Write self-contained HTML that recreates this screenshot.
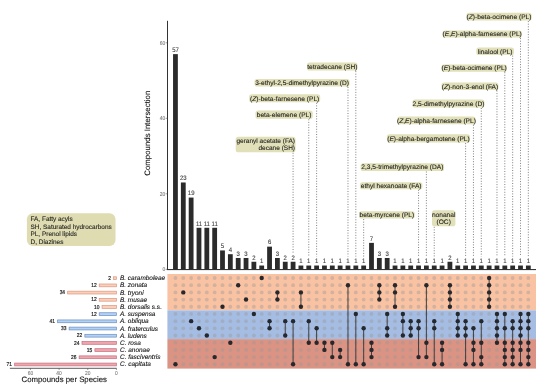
<!DOCTYPE html><html><head><meta charset="utf-8"><style>html,body{margin:0;padding:0;background:#fff;}svg{display:block;filter:blur(0.3px);text-rendering:geometricPrecision;font-family:"Liberation Sans",sans-serif;}</style></head><body>
<svg width="550" height="386" viewBox="0 0 550 386">
<rect x="0" y="0" width="550" height="386" fill="#fff"/>
<rect x="167.4" y="274.00" width="368.6" height="36.35" fill="#f9c2a2"/>
<rect x="167.4" y="310.35" width="368.6" height="28.76" fill="#a5bde3"/>
<rect x="167.4" y="339.11" width="368.6" height="29.49" fill="#db9383"/>
<circle cx="175.45" cy="278.00" r="1.9" fill="#999" fill-opacity="0.4"/>
<circle cx="175.45" cy="285.19" r="1.9" fill="#999" fill-opacity="0.4"/>
<circle cx="175.45" cy="292.38" r="1.9" fill="#999" fill-opacity="0.4"/>
<circle cx="175.45" cy="299.56" r="1.9" fill="#999" fill-opacity="0.4"/>
<circle cx="175.45" cy="306.75" r="1.9" fill="#999" fill-opacity="0.4"/>
<circle cx="175.45" cy="313.94" r="1.9" fill="#999" fill-opacity="0.4"/>
<circle cx="175.45" cy="321.13" r="1.9" fill="#999" fill-opacity="0.4"/>
<circle cx="175.45" cy="328.32" r="1.9" fill="#999" fill-opacity="0.4"/>
<circle cx="175.45" cy="335.51" r="1.9" fill="#999" fill-opacity="0.4"/>
<circle cx="175.45" cy="342.70" r="1.9" fill="#999" fill-opacity="0.4"/>
<circle cx="175.45" cy="349.89" r="1.9" fill="#999" fill-opacity="0.4"/>
<circle cx="175.45" cy="357.08" r="1.9" fill="#999" fill-opacity="0.4"/>
<circle cx="183.29" cy="278.00" r="1.9" fill="#999" fill-opacity="0.4"/>
<circle cx="183.29" cy="285.19" r="1.9" fill="#999" fill-opacity="0.4"/>
<circle cx="183.29" cy="299.56" r="1.9" fill="#999" fill-opacity="0.4"/>
<circle cx="183.29" cy="306.75" r="1.9" fill="#999" fill-opacity="0.4"/>
<circle cx="183.29" cy="313.94" r="1.9" fill="#999" fill-opacity="0.4"/>
<circle cx="183.29" cy="321.13" r="1.9" fill="#999" fill-opacity="0.4"/>
<circle cx="183.29" cy="328.32" r="1.9" fill="#999" fill-opacity="0.4"/>
<circle cx="183.29" cy="335.51" r="1.9" fill="#999" fill-opacity="0.4"/>
<circle cx="183.29" cy="342.70" r="1.9" fill="#999" fill-opacity="0.4"/>
<circle cx="183.29" cy="349.89" r="1.9" fill="#999" fill-opacity="0.4"/>
<circle cx="183.29" cy="357.08" r="1.9" fill="#999" fill-opacity="0.4"/>
<circle cx="183.29" cy="364.27" r="1.9" fill="#999" fill-opacity="0.4"/>
<circle cx="191.13" cy="278.00" r="1.9" fill="#999" fill-opacity="0.4"/>
<circle cx="191.13" cy="285.19" r="1.9" fill="#999" fill-opacity="0.4"/>
<circle cx="191.13" cy="292.38" r="1.9" fill="#999" fill-opacity="0.4"/>
<circle cx="191.13" cy="299.56" r="1.9" fill="#999" fill-opacity="0.4"/>
<circle cx="191.13" cy="306.75" r="1.9" fill="#999" fill-opacity="0.4"/>
<circle cx="191.13" cy="313.94" r="1.9" fill="#999" fill-opacity="0.4"/>
<circle cx="191.13" cy="328.32" r="1.9" fill="#999" fill-opacity="0.4"/>
<circle cx="191.13" cy="335.51" r="1.9" fill="#999" fill-opacity="0.4"/>
<circle cx="191.13" cy="342.70" r="1.9" fill="#999" fill-opacity="0.4"/>
<circle cx="191.13" cy="349.89" r="1.9" fill="#999" fill-opacity="0.4"/>
<circle cx="191.13" cy="357.08" r="1.9" fill="#999" fill-opacity="0.4"/>
<circle cx="191.13" cy="364.27" r="1.9" fill="#999" fill-opacity="0.4"/>
<circle cx="198.98" cy="278.00" r="1.9" fill="#999" fill-opacity="0.4"/>
<circle cx="198.98" cy="285.19" r="1.9" fill="#999" fill-opacity="0.4"/>
<circle cx="198.98" cy="292.38" r="1.9" fill="#999" fill-opacity="0.4"/>
<circle cx="198.98" cy="299.56" r="1.9" fill="#999" fill-opacity="0.4"/>
<circle cx="198.98" cy="306.75" r="1.9" fill="#999" fill-opacity="0.4"/>
<circle cx="198.98" cy="313.94" r="1.9" fill="#999" fill-opacity="0.4"/>
<circle cx="198.98" cy="321.13" r="1.9" fill="#999" fill-opacity="0.4"/>
<circle cx="198.98" cy="335.51" r="1.9" fill="#999" fill-opacity="0.4"/>
<circle cx="198.98" cy="342.70" r="1.9" fill="#999" fill-opacity="0.4"/>
<circle cx="198.98" cy="349.89" r="1.9" fill="#999" fill-opacity="0.4"/>
<circle cx="198.98" cy="357.08" r="1.9" fill="#999" fill-opacity="0.4"/>
<circle cx="198.98" cy="364.27" r="1.9" fill="#999" fill-opacity="0.4"/>
<circle cx="206.82" cy="278.00" r="1.9" fill="#999" fill-opacity="0.4"/>
<circle cx="206.82" cy="285.19" r="1.9" fill="#999" fill-opacity="0.4"/>
<circle cx="206.82" cy="292.38" r="1.9" fill="#999" fill-opacity="0.4"/>
<circle cx="206.82" cy="299.56" r="1.9" fill="#999" fill-opacity="0.4"/>
<circle cx="206.82" cy="306.75" r="1.9" fill="#999" fill-opacity="0.4"/>
<circle cx="206.82" cy="313.94" r="1.9" fill="#999" fill-opacity="0.4"/>
<circle cx="206.82" cy="321.13" r="1.9" fill="#999" fill-opacity="0.4"/>
<circle cx="206.82" cy="328.32" r="1.9" fill="#999" fill-opacity="0.4"/>
<circle cx="206.82" cy="342.70" r="1.9" fill="#999" fill-opacity="0.4"/>
<circle cx="206.82" cy="349.89" r="1.9" fill="#999" fill-opacity="0.4"/>
<circle cx="206.82" cy="357.08" r="1.9" fill="#999" fill-opacity="0.4"/>
<circle cx="206.82" cy="364.27" r="1.9" fill="#999" fill-opacity="0.4"/>
<circle cx="214.66" cy="278.00" r="1.9" fill="#999" fill-opacity="0.4"/>
<circle cx="214.66" cy="285.19" r="1.9" fill="#999" fill-opacity="0.4"/>
<circle cx="214.66" cy="292.38" r="1.9" fill="#999" fill-opacity="0.4"/>
<circle cx="214.66" cy="299.56" r="1.9" fill="#999" fill-opacity="0.4"/>
<circle cx="214.66" cy="306.75" r="1.9" fill="#999" fill-opacity="0.4"/>
<circle cx="214.66" cy="313.94" r="1.9" fill="#999" fill-opacity="0.4"/>
<circle cx="214.66" cy="321.13" r="1.9" fill="#999" fill-opacity="0.4"/>
<circle cx="214.66" cy="328.32" r="1.9" fill="#999" fill-opacity="0.4"/>
<circle cx="214.66" cy="335.51" r="1.9" fill="#999" fill-opacity="0.4"/>
<circle cx="214.66" cy="342.70" r="1.9" fill="#999" fill-opacity="0.4"/>
<circle cx="214.66" cy="349.89" r="1.9" fill="#999" fill-opacity="0.4"/>
<circle cx="214.66" cy="364.27" r="1.9" fill="#999" fill-opacity="0.4"/>
<circle cx="222.50" cy="278.00" r="1.9" fill="#999" fill-opacity="0.4"/>
<circle cx="222.50" cy="285.19" r="1.9" fill="#999" fill-opacity="0.4"/>
<circle cx="222.50" cy="292.38" r="1.9" fill="#999" fill-opacity="0.4"/>
<circle cx="222.50" cy="299.56" r="1.9" fill="#999" fill-opacity="0.4"/>
<circle cx="222.50" cy="313.94" r="1.9" fill="#999" fill-opacity="0.4"/>
<circle cx="222.50" cy="321.13" r="1.9" fill="#999" fill-opacity="0.4"/>
<circle cx="222.50" cy="328.32" r="1.9" fill="#999" fill-opacity="0.4"/>
<circle cx="222.50" cy="335.51" r="1.9" fill="#999" fill-opacity="0.4"/>
<circle cx="222.50" cy="342.70" r="1.9" fill="#999" fill-opacity="0.4"/>
<circle cx="222.50" cy="349.89" r="1.9" fill="#999" fill-opacity="0.4"/>
<circle cx="222.50" cy="357.08" r="1.9" fill="#999" fill-opacity="0.4"/>
<circle cx="222.50" cy="364.27" r="1.9" fill="#999" fill-opacity="0.4"/>
<circle cx="230.34" cy="278.00" r="1.9" fill="#999" fill-opacity="0.4"/>
<circle cx="230.34" cy="285.19" r="1.9" fill="#999" fill-opacity="0.4"/>
<circle cx="230.34" cy="292.38" r="1.9" fill="#999" fill-opacity="0.4"/>
<circle cx="230.34" cy="299.56" r="1.9" fill="#999" fill-opacity="0.4"/>
<circle cx="230.34" cy="306.75" r="1.9" fill="#999" fill-opacity="0.4"/>
<circle cx="230.34" cy="313.94" r="1.9" fill="#999" fill-opacity="0.4"/>
<circle cx="230.34" cy="321.13" r="1.9" fill="#999" fill-opacity="0.4"/>
<circle cx="230.34" cy="328.32" r="1.9" fill="#999" fill-opacity="0.4"/>
<circle cx="230.34" cy="335.51" r="1.9" fill="#999" fill-opacity="0.4"/>
<circle cx="230.34" cy="349.89" r="1.9" fill="#999" fill-opacity="0.4"/>
<circle cx="230.34" cy="357.08" r="1.9" fill="#999" fill-opacity="0.4"/>
<circle cx="230.34" cy="364.27" r="1.9" fill="#999" fill-opacity="0.4"/>
<circle cx="238.19" cy="278.00" r="1.9" fill="#999" fill-opacity="0.4"/>
<circle cx="238.19" cy="292.38" r="1.9" fill="#999" fill-opacity="0.4"/>
<circle cx="238.19" cy="299.56" r="1.9" fill="#999" fill-opacity="0.4"/>
<circle cx="238.19" cy="306.75" r="1.9" fill="#999" fill-opacity="0.4"/>
<circle cx="238.19" cy="313.94" r="1.9" fill="#999" fill-opacity="0.4"/>
<circle cx="238.19" cy="321.13" r="1.9" fill="#999" fill-opacity="0.4"/>
<circle cx="238.19" cy="328.32" r="1.9" fill="#999" fill-opacity="0.4"/>
<circle cx="238.19" cy="335.51" r="1.9" fill="#999" fill-opacity="0.4"/>
<circle cx="238.19" cy="342.70" r="1.9" fill="#999" fill-opacity="0.4"/>
<circle cx="238.19" cy="349.89" r="1.9" fill="#999" fill-opacity="0.4"/>
<circle cx="238.19" cy="357.08" r="1.9" fill="#999" fill-opacity="0.4"/>
<circle cx="238.19" cy="364.27" r="1.9" fill="#999" fill-opacity="0.4"/>
<circle cx="246.03" cy="278.00" r="1.9" fill="#999" fill-opacity="0.4"/>
<circle cx="246.03" cy="285.19" r="1.9" fill="#999" fill-opacity="0.4"/>
<circle cx="246.03" cy="292.38" r="1.9" fill="#999" fill-opacity="0.4"/>
<circle cx="246.03" cy="306.75" r="1.9" fill="#999" fill-opacity="0.4"/>
<circle cx="246.03" cy="313.94" r="1.9" fill="#999" fill-opacity="0.4"/>
<circle cx="246.03" cy="321.13" r="1.9" fill="#999" fill-opacity="0.4"/>
<circle cx="246.03" cy="328.32" r="1.9" fill="#999" fill-opacity="0.4"/>
<circle cx="246.03" cy="335.51" r="1.9" fill="#999" fill-opacity="0.4"/>
<circle cx="246.03" cy="342.70" r="1.9" fill="#999" fill-opacity="0.4"/>
<circle cx="246.03" cy="349.89" r="1.9" fill="#999" fill-opacity="0.4"/>
<circle cx="246.03" cy="357.08" r="1.9" fill="#999" fill-opacity="0.4"/>
<circle cx="246.03" cy="364.27" r="1.9" fill="#999" fill-opacity="0.4"/>
<circle cx="253.87" cy="278.00" r="1.9" fill="#999" fill-opacity="0.4"/>
<circle cx="253.87" cy="285.19" r="1.9" fill="#999" fill-opacity="0.4"/>
<circle cx="253.87" cy="292.38" r="1.9" fill="#999" fill-opacity="0.4"/>
<circle cx="253.87" cy="299.56" r="1.9" fill="#999" fill-opacity="0.4"/>
<circle cx="253.87" cy="306.75" r="1.9" fill="#999" fill-opacity="0.4"/>
<circle cx="253.87" cy="321.13" r="1.9" fill="#999" fill-opacity="0.4"/>
<circle cx="253.87" cy="328.32" r="1.9" fill="#999" fill-opacity="0.4"/>
<circle cx="253.87" cy="335.51" r="1.9" fill="#999" fill-opacity="0.4"/>
<circle cx="253.87" cy="342.70" r="1.9" fill="#999" fill-opacity="0.4"/>
<circle cx="253.87" cy="349.89" r="1.9" fill="#999" fill-opacity="0.4"/>
<circle cx="253.87" cy="357.08" r="1.9" fill="#999" fill-opacity="0.4"/>
<circle cx="253.87" cy="364.27" r="1.9" fill="#999" fill-opacity="0.4"/>
<circle cx="261.71" cy="285.19" r="1.9" fill="#999" fill-opacity="0.4"/>
<circle cx="261.71" cy="292.38" r="1.9" fill="#999" fill-opacity="0.4"/>
<circle cx="261.71" cy="299.56" r="1.9" fill="#999" fill-opacity="0.4"/>
<circle cx="261.71" cy="306.75" r="1.9" fill="#999" fill-opacity="0.4"/>
<circle cx="261.71" cy="313.94" r="1.9" fill="#999" fill-opacity="0.4"/>
<circle cx="261.71" cy="321.13" r="1.9" fill="#999" fill-opacity="0.4"/>
<circle cx="261.71" cy="328.32" r="1.9" fill="#999" fill-opacity="0.4"/>
<circle cx="261.71" cy="335.51" r="1.9" fill="#999" fill-opacity="0.4"/>
<circle cx="261.71" cy="342.70" r="1.9" fill="#999" fill-opacity="0.4"/>
<circle cx="261.71" cy="349.89" r="1.9" fill="#999" fill-opacity="0.4"/>
<circle cx="261.71" cy="357.08" r="1.9" fill="#999" fill-opacity="0.4"/>
<circle cx="261.71" cy="364.27" r="1.9" fill="#999" fill-opacity="0.4"/>
<circle cx="269.55" cy="278.00" r="1.9" fill="#999" fill-opacity="0.4"/>
<circle cx="269.55" cy="285.19" r="1.9" fill="#999" fill-opacity="0.4"/>
<circle cx="269.55" cy="292.38" r="1.9" fill="#999" fill-opacity="0.4"/>
<circle cx="269.55" cy="299.56" r="1.9" fill="#999" fill-opacity="0.4"/>
<circle cx="269.55" cy="306.75" r="1.9" fill="#999" fill-opacity="0.4"/>
<circle cx="269.55" cy="313.94" r="1.9" fill="#999" fill-opacity="0.4"/>
<circle cx="269.55" cy="335.51" r="1.9" fill="#999" fill-opacity="0.4"/>
<circle cx="269.55" cy="342.70" r="1.9" fill="#999" fill-opacity="0.4"/>
<circle cx="269.55" cy="349.89" r="1.9" fill="#999" fill-opacity="0.4"/>
<circle cx="269.55" cy="357.08" r="1.9" fill="#999" fill-opacity="0.4"/>
<circle cx="269.55" cy="364.27" r="1.9" fill="#999" fill-opacity="0.4"/>
<circle cx="277.40" cy="278.00" r="1.9" fill="#999" fill-opacity="0.4"/>
<circle cx="277.40" cy="285.19" r="1.9" fill="#999" fill-opacity="0.4"/>
<circle cx="277.40" cy="306.75" r="1.9" fill="#999" fill-opacity="0.4"/>
<circle cx="277.40" cy="313.94" r="1.9" fill="#999" fill-opacity="0.4"/>
<circle cx="277.40" cy="321.13" r="1.9" fill="#999" fill-opacity="0.4"/>
<circle cx="277.40" cy="328.32" r="1.9" fill="#999" fill-opacity="0.4"/>
<circle cx="277.40" cy="335.51" r="1.9" fill="#999" fill-opacity="0.4"/>
<circle cx="277.40" cy="342.70" r="1.9" fill="#999" fill-opacity="0.4"/>
<circle cx="277.40" cy="349.89" r="1.9" fill="#999" fill-opacity="0.4"/>
<circle cx="277.40" cy="357.08" r="1.9" fill="#999" fill-opacity="0.4"/>
<circle cx="277.40" cy="364.27" r="1.9" fill="#999" fill-opacity="0.4"/>
<circle cx="285.24" cy="278.00" r="1.9" fill="#999" fill-opacity="0.4"/>
<circle cx="285.24" cy="285.19" r="1.9" fill="#999" fill-opacity="0.4"/>
<circle cx="285.24" cy="292.38" r="1.9" fill="#999" fill-opacity="0.4"/>
<circle cx="285.24" cy="299.56" r="1.9" fill="#999" fill-opacity="0.4"/>
<circle cx="285.24" cy="306.75" r="1.9" fill="#999" fill-opacity="0.4"/>
<circle cx="285.24" cy="313.94" r="1.9" fill="#999" fill-opacity="0.4"/>
<circle cx="285.24" cy="328.32" r="1.9" fill="#999" fill-opacity="0.4"/>
<circle cx="285.24" cy="342.70" r="1.9" fill="#999" fill-opacity="0.4"/>
<circle cx="285.24" cy="349.89" r="1.9" fill="#999" fill-opacity="0.4"/>
<circle cx="285.24" cy="357.08" r="1.9" fill="#999" fill-opacity="0.4"/>
<circle cx="285.24" cy="364.27" r="1.9" fill="#999" fill-opacity="0.4"/>
<circle cx="293.08" cy="278.00" r="1.9" fill="#999" fill-opacity="0.4"/>
<circle cx="293.08" cy="285.19" r="1.9" fill="#999" fill-opacity="0.4"/>
<circle cx="293.08" cy="292.38" r="1.9" fill="#999" fill-opacity="0.4"/>
<circle cx="293.08" cy="299.56" r="1.9" fill="#999" fill-opacity="0.4"/>
<circle cx="293.08" cy="306.75" r="1.9" fill="#999" fill-opacity="0.4"/>
<circle cx="293.08" cy="313.94" r="1.9" fill="#999" fill-opacity="0.4"/>
<circle cx="293.08" cy="328.32" r="1.9" fill="#999" fill-opacity="0.4"/>
<circle cx="293.08" cy="335.51" r="1.9" fill="#999" fill-opacity="0.4"/>
<circle cx="293.08" cy="342.70" r="1.9" fill="#999" fill-opacity="0.4"/>
<circle cx="293.08" cy="349.89" r="1.9" fill="#999" fill-opacity="0.4"/>
<circle cx="293.08" cy="357.08" r="1.9" fill="#999" fill-opacity="0.4"/>
<circle cx="300.92" cy="278.00" r="1.9" fill="#999" fill-opacity="0.4"/>
<circle cx="300.92" cy="285.19" r="1.9" fill="#999" fill-opacity="0.4"/>
<circle cx="300.92" cy="299.56" r="1.9" fill="#999" fill-opacity="0.4"/>
<circle cx="300.92" cy="313.94" r="1.9" fill="#999" fill-opacity="0.4"/>
<circle cx="300.92" cy="321.13" r="1.9" fill="#999" fill-opacity="0.4"/>
<circle cx="300.92" cy="328.32" r="1.9" fill="#999" fill-opacity="0.4"/>
<circle cx="300.92" cy="335.51" r="1.9" fill="#999" fill-opacity="0.4"/>
<circle cx="300.92" cy="342.70" r="1.9" fill="#999" fill-opacity="0.4"/>
<circle cx="300.92" cy="349.89" r="1.9" fill="#999" fill-opacity="0.4"/>
<circle cx="300.92" cy="357.08" r="1.9" fill="#999" fill-opacity="0.4"/>
<circle cx="300.92" cy="364.27" r="1.9" fill="#999" fill-opacity="0.4"/>
<circle cx="308.76" cy="278.00" r="1.9" fill="#999" fill-opacity="0.4"/>
<circle cx="308.76" cy="285.19" r="1.9" fill="#999" fill-opacity="0.4"/>
<circle cx="308.76" cy="292.38" r="1.9" fill="#999" fill-opacity="0.4"/>
<circle cx="308.76" cy="299.56" r="1.9" fill="#999" fill-opacity="0.4"/>
<circle cx="308.76" cy="306.75" r="1.9" fill="#999" fill-opacity="0.4"/>
<circle cx="308.76" cy="313.94" r="1.9" fill="#999" fill-opacity="0.4"/>
<circle cx="308.76" cy="328.32" r="1.9" fill="#999" fill-opacity="0.4"/>
<circle cx="308.76" cy="335.51" r="1.9" fill="#999" fill-opacity="0.4"/>
<circle cx="308.76" cy="349.89" r="1.9" fill="#999" fill-opacity="0.4"/>
<circle cx="308.76" cy="357.08" r="1.9" fill="#999" fill-opacity="0.4"/>
<circle cx="308.76" cy="364.27" r="1.9" fill="#999" fill-opacity="0.4"/>
<circle cx="316.61" cy="278.00" r="1.9" fill="#999" fill-opacity="0.4"/>
<circle cx="316.61" cy="285.19" r="1.9" fill="#999" fill-opacity="0.4"/>
<circle cx="316.61" cy="292.38" r="1.9" fill="#999" fill-opacity="0.4"/>
<circle cx="316.61" cy="299.56" r="1.9" fill="#999" fill-opacity="0.4"/>
<circle cx="316.61" cy="306.75" r="1.9" fill="#999" fill-opacity="0.4"/>
<circle cx="316.61" cy="313.94" r="1.9" fill="#999" fill-opacity="0.4"/>
<circle cx="316.61" cy="321.13" r="1.9" fill="#999" fill-opacity="0.4"/>
<circle cx="316.61" cy="335.51" r="1.9" fill="#999" fill-opacity="0.4"/>
<circle cx="316.61" cy="349.89" r="1.9" fill="#999" fill-opacity="0.4"/>
<circle cx="316.61" cy="357.08" r="1.9" fill="#999" fill-opacity="0.4"/>
<circle cx="316.61" cy="364.27" r="1.9" fill="#999" fill-opacity="0.4"/>
<circle cx="324.45" cy="278.00" r="1.9" fill="#999" fill-opacity="0.4"/>
<circle cx="324.45" cy="285.19" r="1.9" fill="#999" fill-opacity="0.4"/>
<circle cx="324.45" cy="292.38" r="1.9" fill="#999" fill-opacity="0.4"/>
<circle cx="324.45" cy="299.56" r="1.9" fill="#999" fill-opacity="0.4"/>
<circle cx="324.45" cy="306.75" r="1.9" fill="#999" fill-opacity="0.4"/>
<circle cx="324.45" cy="313.94" r="1.9" fill="#999" fill-opacity="0.4"/>
<circle cx="324.45" cy="321.13" r="1.9" fill="#999" fill-opacity="0.4"/>
<circle cx="324.45" cy="328.32" r="1.9" fill="#999" fill-opacity="0.4"/>
<circle cx="324.45" cy="335.51" r="1.9" fill="#999" fill-opacity="0.4"/>
<circle cx="324.45" cy="357.08" r="1.9" fill="#999" fill-opacity="0.4"/>
<circle cx="324.45" cy="364.27" r="1.9" fill="#999" fill-opacity="0.4"/>
<circle cx="332.29" cy="278.00" r="1.9" fill="#999" fill-opacity="0.4"/>
<circle cx="332.29" cy="285.19" r="1.9" fill="#999" fill-opacity="0.4"/>
<circle cx="332.29" cy="292.38" r="1.9" fill="#999" fill-opacity="0.4"/>
<circle cx="332.29" cy="299.56" r="1.9" fill="#999" fill-opacity="0.4"/>
<circle cx="332.29" cy="306.75" r="1.9" fill="#999" fill-opacity="0.4"/>
<circle cx="332.29" cy="313.94" r="1.9" fill="#999" fill-opacity="0.4"/>
<circle cx="332.29" cy="321.13" r="1.9" fill="#999" fill-opacity="0.4"/>
<circle cx="332.29" cy="328.32" r="1.9" fill="#999" fill-opacity="0.4"/>
<circle cx="332.29" cy="335.51" r="1.9" fill="#999" fill-opacity="0.4"/>
<circle cx="332.29" cy="349.89" r="1.9" fill="#999" fill-opacity="0.4"/>
<circle cx="332.29" cy="364.27" r="1.9" fill="#999" fill-opacity="0.4"/>
<circle cx="340.13" cy="278.00" r="1.9" fill="#999" fill-opacity="0.4"/>
<circle cx="340.13" cy="285.19" r="1.9" fill="#999" fill-opacity="0.4"/>
<circle cx="340.13" cy="292.38" r="1.9" fill="#999" fill-opacity="0.4"/>
<circle cx="340.13" cy="299.56" r="1.9" fill="#999" fill-opacity="0.4"/>
<circle cx="340.13" cy="306.75" r="1.9" fill="#999" fill-opacity="0.4"/>
<circle cx="340.13" cy="313.94" r="1.9" fill="#999" fill-opacity="0.4"/>
<circle cx="340.13" cy="321.13" r="1.9" fill="#999" fill-opacity="0.4"/>
<circle cx="340.13" cy="328.32" r="1.9" fill="#999" fill-opacity="0.4"/>
<circle cx="340.13" cy="335.51" r="1.9" fill="#999" fill-opacity="0.4"/>
<circle cx="340.13" cy="342.70" r="1.9" fill="#999" fill-opacity="0.4"/>
<circle cx="340.13" cy="364.27" r="1.9" fill="#999" fill-opacity="0.4"/>
<circle cx="347.97" cy="278.00" r="1.9" fill="#999" fill-opacity="0.4"/>
<circle cx="347.97" cy="292.38" r="1.9" fill="#999" fill-opacity="0.4"/>
<circle cx="347.97" cy="299.56" r="1.9" fill="#999" fill-opacity="0.4"/>
<circle cx="347.97" cy="306.75" r="1.9" fill="#999" fill-opacity="0.4"/>
<circle cx="347.97" cy="313.94" r="1.9" fill="#999" fill-opacity="0.4"/>
<circle cx="347.97" cy="321.13" r="1.9" fill="#999" fill-opacity="0.4"/>
<circle cx="347.97" cy="328.32" r="1.9" fill="#999" fill-opacity="0.4"/>
<circle cx="347.97" cy="335.51" r="1.9" fill="#999" fill-opacity="0.4"/>
<circle cx="347.97" cy="342.70" r="1.9" fill="#999" fill-opacity="0.4"/>
<circle cx="347.97" cy="349.89" r="1.9" fill="#999" fill-opacity="0.4"/>
<circle cx="347.97" cy="357.08" r="1.9" fill="#999" fill-opacity="0.4"/>
<circle cx="355.82" cy="278.00" r="1.9" fill="#999" fill-opacity="0.4"/>
<circle cx="355.82" cy="285.19" r="1.9" fill="#999" fill-opacity="0.4"/>
<circle cx="355.82" cy="292.38" r="1.9" fill="#999" fill-opacity="0.4"/>
<circle cx="355.82" cy="299.56" r="1.9" fill="#999" fill-opacity="0.4"/>
<circle cx="355.82" cy="306.75" r="1.9" fill="#999" fill-opacity="0.4"/>
<circle cx="355.82" cy="321.13" r="1.9" fill="#999" fill-opacity="0.4"/>
<circle cx="355.82" cy="328.32" r="1.9" fill="#999" fill-opacity="0.4"/>
<circle cx="355.82" cy="335.51" r="1.9" fill="#999" fill-opacity="0.4"/>
<circle cx="355.82" cy="342.70" r="1.9" fill="#999" fill-opacity="0.4"/>
<circle cx="355.82" cy="349.89" r="1.9" fill="#999" fill-opacity="0.4"/>
<circle cx="355.82" cy="357.08" r="1.9" fill="#999" fill-opacity="0.4"/>
<circle cx="363.66" cy="278.00" r="1.9" fill="#999" fill-opacity="0.4"/>
<circle cx="363.66" cy="285.19" r="1.9" fill="#999" fill-opacity="0.4"/>
<circle cx="363.66" cy="292.38" r="1.9" fill="#999" fill-opacity="0.4"/>
<circle cx="363.66" cy="299.56" r="1.9" fill="#999" fill-opacity="0.4"/>
<circle cx="363.66" cy="306.75" r="1.9" fill="#999" fill-opacity="0.4"/>
<circle cx="363.66" cy="313.94" r="1.9" fill="#999" fill-opacity="0.4"/>
<circle cx="363.66" cy="321.13" r="1.9" fill="#999" fill-opacity="0.4"/>
<circle cx="363.66" cy="335.51" r="1.9" fill="#999" fill-opacity="0.4"/>
<circle cx="363.66" cy="342.70" r="1.9" fill="#999" fill-opacity="0.4"/>
<circle cx="363.66" cy="349.89" r="1.9" fill="#999" fill-opacity="0.4"/>
<circle cx="363.66" cy="357.08" r="1.9" fill="#999" fill-opacity="0.4"/>
<circle cx="371.50" cy="278.00" r="1.9" fill="#999" fill-opacity="0.4"/>
<circle cx="371.50" cy="285.19" r="1.9" fill="#999" fill-opacity="0.4"/>
<circle cx="371.50" cy="292.38" r="1.9" fill="#999" fill-opacity="0.4"/>
<circle cx="371.50" cy="299.56" r="1.9" fill="#999" fill-opacity="0.4"/>
<circle cx="371.50" cy="306.75" r="1.9" fill="#999" fill-opacity="0.4"/>
<circle cx="371.50" cy="313.94" r="1.9" fill="#999" fill-opacity="0.4"/>
<circle cx="371.50" cy="321.13" r="1.9" fill="#999" fill-opacity="0.4"/>
<circle cx="371.50" cy="328.32" r="1.9" fill="#999" fill-opacity="0.4"/>
<circle cx="371.50" cy="335.51" r="1.9" fill="#999" fill-opacity="0.4"/>
<circle cx="371.50" cy="364.27" r="1.9" fill="#999" fill-opacity="0.4"/>
<circle cx="379.34" cy="278.00" r="1.9" fill="#999" fill-opacity="0.4"/>
<circle cx="379.34" cy="306.75" r="1.9" fill="#999" fill-opacity="0.4"/>
<circle cx="379.34" cy="313.94" r="1.9" fill="#999" fill-opacity="0.4"/>
<circle cx="379.34" cy="321.13" r="1.9" fill="#999" fill-opacity="0.4"/>
<circle cx="379.34" cy="328.32" r="1.9" fill="#999" fill-opacity="0.4"/>
<circle cx="379.34" cy="335.51" r="1.9" fill="#999" fill-opacity="0.4"/>
<circle cx="379.34" cy="342.70" r="1.9" fill="#999" fill-opacity="0.4"/>
<circle cx="379.34" cy="349.89" r="1.9" fill="#999" fill-opacity="0.4"/>
<circle cx="379.34" cy="357.08" r="1.9" fill="#999" fill-opacity="0.4"/>
<circle cx="379.34" cy="364.27" r="1.9" fill="#999" fill-opacity="0.4"/>
<circle cx="387.18" cy="278.00" r="1.9" fill="#999" fill-opacity="0.4"/>
<circle cx="387.18" cy="285.19" r="1.9" fill="#999" fill-opacity="0.4"/>
<circle cx="387.18" cy="292.38" r="1.9" fill="#999" fill-opacity="0.4"/>
<circle cx="387.18" cy="299.56" r="1.9" fill="#999" fill-opacity="0.4"/>
<circle cx="387.18" cy="306.75" r="1.9" fill="#999" fill-opacity="0.4"/>
<circle cx="387.18" cy="321.13" r="1.9" fill="#999" fill-opacity="0.4"/>
<circle cx="387.18" cy="342.70" r="1.9" fill="#999" fill-opacity="0.4"/>
<circle cx="387.18" cy="349.89" r="1.9" fill="#999" fill-opacity="0.4"/>
<circle cx="387.18" cy="357.08" r="1.9" fill="#999" fill-opacity="0.4"/>
<circle cx="387.18" cy="364.27" r="1.9" fill="#999" fill-opacity="0.4"/>
<circle cx="395.03" cy="278.00" r="1.9" fill="#999" fill-opacity="0.4"/>
<circle cx="395.03" cy="299.56" r="1.9" fill="#999" fill-opacity="0.4"/>
<circle cx="395.03" cy="313.94" r="1.9" fill="#999" fill-opacity="0.4"/>
<circle cx="395.03" cy="321.13" r="1.9" fill="#999" fill-opacity="0.4"/>
<circle cx="395.03" cy="328.32" r="1.9" fill="#999" fill-opacity="0.4"/>
<circle cx="395.03" cy="335.51" r="1.9" fill="#999" fill-opacity="0.4"/>
<circle cx="395.03" cy="342.70" r="1.9" fill="#999" fill-opacity="0.4"/>
<circle cx="395.03" cy="349.89" r="1.9" fill="#999" fill-opacity="0.4"/>
<circle cx="395.03" cy="357.08" r="1.9" fill="#999" fill-opacity="0.4"/>
<circle cx="395.03" cy="364.27" r="1.9" fill="#999" fill-opacity="0.4"/>
<circle cx="402.87" cy="278.00" r="1.9" fill="#999" fill-opacity="0.4"/>
<circle cx="402.87" cy="285.19" r="1.9" fill="#999" fill-opacity="0.4"/>
<circle cx="402.87" cy="292.38" r="1.9" fill="#999" fill-opacity="0.4"/>
<circle cx="402.87" cy="299.56" r="1.9" fill="#999" fill-opacity="0.4"/>
<circle cx="402.87" cy="306.75" r="1.9" fill="#999" fill-opacity="0.4"/>
<circle cx="402.87" cy="328.32" r="1.9" fill="#999" fill-opacity="0.4"/>
<circle cx="402.87" cy="342.70" r="1.9" fill="#999" fill-opacity="0.4"/>
<circle cx="402.87" cy="349.89" r="1.9" fill="#999" fill-opacity="0.4"/>
<circle cx="402.87" cy="357.08" r="1.9" fill="#999" fill-opacity="0.4"/>
<circle cx="402.87" cy="364.27" r="1.9" fill="#999" fill-opacity="0.4"/>
<circle cx="410.71" cy="278.00" r="1.9" fill="#999" fill-opacity="0.4"/>
<circle cx="410.71" cy="285.19" r="1.9" fill="#999" fill-opacity="0.4"/>
<circle cx="410.71" cy="292.38" r="1.9" fill="#999" fill-opacity="0.4"/>
<circle cx="410.71" cy="299.56" r="1.9" fill="#999" fill-opacity="0.4"/>
<circle cx="410.71" cy="306.75" r="1.9" fill="#999" fill-opacity="0.4"/>
<circle cx="410.71" cy="313.94" r="1.9" fill="#999" fill-opacity="0.4"/>
<circle cx="410.71" cy="342.70" r="1.9" fill="#999" fill-opacity="0.4"/>
<circle cx="410.71" cy="349.89" r="1.9" fill="#999" fill-opacity="0.4"/>
<circle cx="410.71" cy="357.08" r="1.9" fill="#999" fill-opacity="0.4"/>
<circle cx="410.71" cy="364.27" r="1.9" fill="#999" fill-opacity="0.4"/>
<circle cx="418.55" cy="278.00" r="1.9" fill="#999" fill-opacity="0.4"/>
<circle cx="418.55" cy="285.19" r="1.9" fill="#999" fill-opacity="0.4"/>
<circle cx="418.55" cy="292.38" r="1.9" fill="#999" fill-opacity="0.4"/>
<circle cx="418.55" cy="299.56" r="1.9" fill="#999" fill-opacity="0.4"/>
<circle cx="418.55" cy="306.75" r="1.9" fill="#999" fill-opacity="0.4"/>
<circle cx="418.55" cy="313.94" r="1.9" fill="#999" fill-opacity="0.4"/>
<circle cx="418.55" cy="335.51" r="1.9" fill="#999" fill-opacity="0.4"/>
<circle cx="418.55" cy="342.70" r="1.9" fill="#999" fill-opacity="0.4"/>
<circle cx="418.55" cy="349.89" r="1.9" fill="#999" fill-opacity="0.4"/>
<circle cx="418.55" cy="364.27" r="1.9" fill="#999" fill-opacity="0.4"/>
<circle cx="426.39" cy="278.00" r="1.9" fill="#999" fill-opacity="0.4"/>
<circle cx="426.39" cy="292.38" r="1.9" fill="#999" fill-opacity="0.4"/>
<circle cx="426.39" cy="299.56" r="1.9" fill="#999" fill-opacity="0.4"/>
<circle cx="426.39" cy="306.75" r="1.9" fill="#999" fill-opacity="0.4"/>
<circle cx="426.39" cy="313.94" r="1.9" fill="#999" fill-opacity="0.4"/>
<circle cx="426.39" cy="321.13" r="1.9" fill="#999" fill-opacity="0.4"/>
<circle cx="426.39" cy="328.32" r="1.9" fill="#999" fill-opacity="0.4"/>
<circle cx="426.39" cy="335.51" r="1.9" fill="#999" fill-opacity="0.4"/>
<circle cx="426.39" cy="349.89" r="1.9" fill="#999" fill-opacity="0.4"/>
<circle cx="426.39" cy="364.27" r="1.9" fill="#999" fill-opacity="0.4"/>
<circle cx="434.24" cy="278.00" r="1.9" fill="#999" fill-opacity="0.4"/>
<circle cx="434.24" cy="285.19" r="1.9" fill="#999" fill-opacity="0.4"/>
<circle cx="434.24" cy="292.38" r="1.9" fill="#999" fill-opacity="0.4"/>
<circle cx="434.24" cy="299.56" r="1.9" fill="#999" fill-opacity="0.4"/>
<circle cx="434.24" cy="306.75" r="1.9" fill="#999" fill-opacity="0.4"/>
<circle cx="434.24" cy="313.94" r="1.9" fill="#999" fill-opacity="0.4"/>
<circle cx="434.24" cy="335.51" r="1.9" fill="#999" fill-opacity="0.4"/>
<circle cx="434.24" cy="342.70" r="1.9" fill="#999" fill-opacity="0.4"/>
<circle cx="434.24" cy="349.89" r="1.9" fill="#999" fill-opacity="0.4"/>
<circle cx="434.24" cy="357.08" r="1.9" fill="#999" fill-opacity="0.4"/>
<circle cx="442.08" cy="278.00" r="1.9" fill="#999" fill-opacity="0.4"/>
<circle cx="442.08" cy="285.19" r="1.9" fill="#999" fill-opacity="0.4"/>
<circle cx="442.08" cy="292.38" r="1.9" fill="#999" fill-opacity="0.4"/>
<circle cx="442.08" cy="299.56" r="1.9" fill="#999" fill-opacity="0.4"/>
<circle cx="442.08" cy="306.75" r="1.9" fill="#999" fill-opacity="0.4"/>
<circle cx="442.08" cy="313.94" r="1.9" fill="#999" fill-opacity="0.4"/>
<circle cx="442.08" cy="321.13" r="1.9" fill="#999" fill-opacity="0.4"/>
<circle cx="442.08" cy="328.32" r="1.9" fill="#999" fill-opacity="0.4"/>
<circle cx="442.08" cy="335.51" r="1.9" fill="#999" fill-opacity="0.4"/>
<circle cx="442.08" cy="357.08" r="1.9" fill="#999" fill-opacity="0.4"/>
<circle cx="449.92" cy="278.00" r="1.9" fill="#999" fill-opacity="0.4"/>
<circle cx="449.92" cy="313.94" r="1.9" fill="#999" fill-opacity="0.4"/>
<circle cx="449.92" cy="321.13" r="1.9" fill="#999" fill-opacity="0.4"/>
<circle cx="449.92" cy="328.32" r="1.9" fill="#999" fill-opacity="0.4"/>
<circle cx="449.92" cy="335.51" r="1.9" fill="#999" fill-opacity="0.4"/>
<circle cx="449.92" cy="342.70" r="1.9" fill="#999" fill-opacity="0.4"/>
<circle cx="449.92" cy="349.89" r="1.9" fill="#999" fill-opacity="0.4"/>
<circle cx="449.92" cy="357.08" r="1.9" fill="#999" fill-opacity="0.4"/>
<circle cx="449.92" cy="364.27" r="1.9" fill="#999" fill-opacity="0.4"/>
<circle cx="457.76" cy="278.00" r="1.9" fill="#999" fill-opacity="0.4"/>
<circle cx="457.76" cy="285.19" r="1.9" fill="#999" fill-opacity="0.4"/>
<circle cx="457.76" cy="292.38" r="1.9" fill="#999" fill-opacity="0.4"/>
<circle cx="457.76" cy="299.56" r="1.9" fill="#999" fill-opacity="0.4"/>
<circle cx="457.76" cy="306.75" r="1.9" fill="#999" fill-opacity="0.4"/>
<circle cx="457.76" cy="342.70" r="1.9" fill="#999" fill-opacity="0.4"/>
<circle cx="457.76" cy="349.89" r="1.9" fill="#999" fill-opacity="0.4"/>
<circle cx="457.76" cy="357.08" r="1.9" fill="#999" fill-opacity="0.4"/>
<circle cx="457.76" cy="364.27" r="1.9" fill="#999" fill-opacity="0.4"/>
<circle cx="465.60" cy="278.00" r="1.9" fill="#999" fill-opacity="0.4"/>
<circle cx="465.60" cy="285.19" r="1.9" fill="#999" fill-opacity="0.4"/>
<circle cx="465.60" cy="292.38" r="1.9" fill="#999" fill-opacity="0.4"/>
<circle cx="465.60" cy="299.56" r="1.9" fill="#999" fill-opacity="0.4"/>
<circle cx="465.60" cy="306.75" r="1.9" fill="#999" fill-opacity="0.4"/>
<circle cx="465.60" cy="313.94" r="1.9" fill="#999" fill-opacity="0.4"/>
<circle cx="465.60" cy="342.70" r="1.9" fill="#999" fill-opacity="0.4"/>
<circle cx="465.60" cy="349.89" r="1.9" fill="#999" fill-opacity="0.4"/>
<circle cx="465.60" cy="357.08" r="1.9" fill="#999" fill-opacity="0.4"/>
<circle cx="473.45" cy="278.00" r="1.9" fill="#999" fill-opacity="0.4"/>
<circle cx="473.45" cy="285.19" r="1.9" fill="#999" fill-opacity="0.4"/>
<circle cx="473.45" cy="292.38" r="1.9" fill="#999" fill-opacity="0.4"/>
<circle cx="473.45" cy="299.56" r="1.9" fill="#999" fill-opacity="0.4"/>
<circle cx="473.45" cy="306.75" r="1.9" fill="#999" fill-opacity="0.4"/>
<circle cx="473.45" cy="313.94" r="1.9" fill="#999" fill-opacity="0.4"/>
<circle cx="473.45" cy="321.13" r="1.9" fill="#999" fill-opacity="0.4"/>
<circle cx="473.45" cy="335.51" r="1.9" fill="#999" fill-opacity="0.4"/>
<circle cx="473.45" cy="357.08" r="1.9" fill="#999" fill-opacity="0.4"/>
<circle cx="481.29" cy="278.00" r="1.9" fill="#999" fill-opacity="0.4"/>
<circle cx="481.29" cy="285.19" r="1.9" fill="#999" fill-opacity="0.4"/>
<circle cx="481.29" cy="292.38" r="1.9" fill="#999" fill-opacity="0.4"/>
<circle cx="481.29" cy="299.56" r="1.9" fill="#999" fill-opacity="0.4"/>
<circle cx="481.29" cy="306.75" r="1.9" fill="#999" fill-opacity="0.4"/>
<circle cx="481.29" cy="313.94" r="1.9" fill="#999" fill-opacity="0.4"/>
<circle cx="481.29" cy="328.32" r="1.9" fill="#999" fill-opacity="0.4"/>
<circle cx="481.29" cy="335.51" r="1.9" fill="#999" fill-opacity="0.4"/>
<circle cx="481.29" cy="349.89" r="1.9" fill="#999" fill-opacity="0.4"/>
<circle cx="489.13" cy="313.94" r="1.9" fill="#999" fill-opacity="0.4"/>
<circle cx="489.13" cy="321.13" r="1.9" fill="#999" fill-opacity="0.4"/>
<circle cx="489.13" cy="328.32" r="1.9" fill="#999" fill-opacity="0.4"/>
<circle cx="489.13" cy="335.51" r="1.9" fill="#999" fill-opacity="0.4"/>
<circle cx="489.13" cy="342.70" r="1.9" fill="#999" fill-opacity="0.4"/>
<circle cx="489.13" cy="349.89" r="1.9" fill="#999" fill-opacity="0.4"/>
<circle cx="489.13" cy="357.08" r="1.9" fill="#999" fill-opacity="0.4"/>
<circle cx="489.13" cy="364.27" r="1.9" fill="#999" fill-opacity="0.4"/>
<circle cx="496.97" cy="278.00" r="1.9" fill="#999" fill-opacity="0.4"/>
<circle cx="496.97" cy="285.19" r="1.9" fill="#999" fill-opacity="0.4"/>
<circle cx="496.97" cy="292.38" r="1.9" fill="#999" fill-opacity="0.4"/>
<circle cx="496.97" cy="299.56" r="1.9" fill="#999" fill-opacity="0.4"/>
<circle cx="496.97" cy="306.75" r="1.9" fill="#999" fill-opacity="0.4"/>
<circle cx="496.97" cy="349.89" r="1.9" fill="#999" fill-opacity="0.4"/>
<circle cx="496.97" cy="357.08" r="1.9" fill="#999" fill-opacity="0.4"/>
<circle cx="496.97" cy="364.27" r="1.9" fill="#999" fill-opacity="0.4"/>
<circle cx="504.81" cy="278.00" r="1.9" fill="#999" fill-opacity="0.4"/>
<circle cx="504.81" cy="285.19" r="1.9" fill="#999" fill-opacity="0.4"/>
<circle cx="504.81" cy="292.38" r="1.9" fill="#999" fill-opacity="0.4"/>
<circle cx="504.81" cy="299.56" r="1.9" fill="#999" fill-opacity="0.4"/>
<circle cx="504.81" cy="306.75" r="1.9" fill="#999" fill-opacity="0.4"/>
<circle cx="504.81" cy="321.13" r="1.9" fill="#999" fill-opacity="0.4"/>
<circle cx="504.81" cy="335.51" r="1.9" fill="#999" fill-opacity="0.4"/>
<circle cx="512.66" cy="278.00" r="1.9" fill="#999" fill-opacity="0.4"/>
<circle cx="512.66" cy="285.19" r="1.9" fill="#999" fill-opacity="0.4"/>
<circle cx="512.66" cy="292.38" r="1.9" fill="#999" fill-opacity="0.4"/>
<circle cx="512.66" cy="299.56" r="1.9" fill="#999" fill-opacity="0.4"/>
<circle cx="512.66" cy="306.75" r="1.9" fill="#999" fill-opacity="0.4"/>
<circle cx="512.66" cy="313.94" r="1.9" fill="#999" fill-opacity="0.4"/>
<circle cx="512.66" cy="335.51" r="1.9" fill="#999" fill-opacity="0.4"/>
<circle cx="520.50" cy="278.00" r="1.9" fill="#999" fill-opacity="0.4"/>
<circle cx="520.50" cy="285.19" r="1.9" fill="#999" fill-opacity="0.4"/>
<circle cx="520.50" cy="292.38" r="1.9" fill="#999" fill-opacity="0.4"/>
<circle cx="520.50" cy="299.56" r="1.9" fill="#999" fill-opacity="0.4"/>
<circle cx="520.50" cy="306.75" r="1.9" fill="#999" fill-opacity="0.4"/>
<circle cx="520.50" cy="357.08" r="1.9" fill="#999" fill-opacity="0.4"/>
<circle cx="528.34" cy="278.00" r="1.9" fill="#999" fill-opacity="0.4"/>
<circle cx="528.34" cy="285.19" r="1.9" fill="#999" fill-opacity="0.4"/>
<circle cx="528.34" cy="292.38" r="1.9" fill="#999" fill-opacity="0.4"/>
<circle cx="528.34" cy="299.56" r="1.9" fill="#999" fill-opacity="0.4"/>
<circle cx="528.34" cy="306.75" r="1.9" fill="#999" fill-opacity="0.4"/>
<circle cx="528.34" cy="335.51" r="1.9" fill="#999" fill-opacity="0.4"/>
<circle cx="175.45" cy="364.27" r="2.2" fill="#25282d"/>
<circle cx="183.29" cy="292.38" r="2.2" fill="#25282d"/>
<circle cx="191.13" cy="321.13" r="2.2" fill="#25282d"/>
<circle cx="198.98" cy="328.32" r="2.2" fill="#25282d"/>
<circle cx="206.82" cy="335.51" r="2.2" fill="#25282d"/>
<circle cx="214.66" cy="357.08" r="2.2" fill="#25282d"/>
<circle cx="222.50" cy="306.75" r="2.2" fill="#25282d"/>
<circle cx="230.34" cy="342.70" r="2.2" fill="#25282d"/>
<circle cx="238.19" cy="285.19" r="2.2" fill="#25282d"/>
<circle cx="246.03" cy="299.56" r="2.2" fill="#25282d"/>
<circle cx="253.87" cy="313.94" r="2.2" fill="#25282d"/>
<circle cx="261.71" cy="278.00" r="2.2" fill="#25282d"/>
<line x1="269.55" y1="321.13" x2="269.55" y2="328.32" stroke="#333" stroke-width="0.9"/>
<circle cx="269.55" cy="321.13" r="2.2" fill="#25282d"/>
<circle cx="269.55" cy="328.32" r="2.2" fill="#25282d"/>
<line x1="277.40" y1="292.38" x2="277.40" y2="299.56" stroke="#333" stroke-width="0.9"/>
<circle cx="277.40" cy="292.38" r="2.2" fill="#25282d"/>
<circle cx="277.40" cy="299.56" r="2.2" fill="#25282d"/>
<line x1="285.24" y1="321.13" x2="285.24" y2="335.51" stroke="#333" stroke-width="0.9"/>
<circle cx="285.24" cy="321.13" r="2.2" fill="#25282d"/>
<circle cx="285.24" cy="335.51" r="2.2" fill="#25282d"/>
<line x1="293.08" y1="321.13" x2="293.08" y2="364.27" stroke="#333" stroke-width="0.9"/>
<circle cx="293.08" cy="321.13" r="2.2" fill="#25282d"/>
<circle cx="293.08" cy="364.27" r="2.2" fill="#25282d"/>
<line x1="300.92" y1="292.38" x2="300.92" y2="306.75" stroke="#333" stroke-width="0.9"/>
<circle cx="300.92" cy="292.38" r="2.2" fill="#25282d"/>
<circle cx="300.92" cy="306.75" r="2.2" fill="#25282d"/>
<line x1="308.76" y1="321.13" x2="308.76" y2="342.70" stroke="#333" stroke-width="0.9"/>
<circle cx="308.76" cy="321.13" r="2.2" fill="#25282d"/>
<circle cx="308.76" cy="342.70" r="2.2" fill="#25282d"/>
<line x1="316.61" y1="328.32" x2="316.61" y2="342.70" stroke="#333" stroke-width="0.9"/>
<circle cx="316.61" cy="328.32" r="2.2" fill="#25282d"/>
<circle cx="316.61" cy="342.70" r="2.2" fill="#25282d"/>
<line x1="324.45" y1="342.70" x2="324.45" y2="349.89" stroke="#333" stroke-width="0.9"/>
<circle cx="324.45" cy="342.70" r="2.2" fill="#25282d"/>
<circle cx="324.45" cy="349.89" r="2.2" fill="#25282d"/>
<line x1="332.29" y1="342.70" x2="332.29" y2="357.08" stroke="#333" stroke-width="0.9"/>
<circle cx="332.29" cy="342.70" r="2.2" fill="#25282d"/>
<circle cx="332.29" cy="357.08" r="2.2" fill="#25282d"/>
<line x1="340.13" y1="349.89" x2="340.13" y2="357.08" stroke="#333" stroke-width="0.9"/>
<circle cx="340.13" cy="349.89" r="2.2" fill="#25282d"/>
<circle cx="340.13" cy="357.08" r="2.2" fill="#25282d"/>
<line x1="347.97" y1="285.19" x2="347.97" y2="364.27" stroke="#333" stroke-width="0.9"/>
<circle cx="347.97" cy="285.19" r="2.2" fill="#25282d"/>
<circle cx="347.97" cy="364.27" r="2.2" fill="#25282d"/>
<line x1="355.82" y1="313.94" x2="355.82" y2="364.27" stroke="#333" stroke-width="0.9"/>
<circle cx="355.82" cy="313.94" r="2.2" fill="#25282d"/>
<circle cx="355.82" cy="364.27" r="2.2" fill="#25282d"/>
<line x1="363.66" y1="328.32" x2="363.66" y2="364.27" stroke="#333" stroke-width="0.9"/>
<circle cx="363.66" cy="328.32" r="2.2" fill="#25282d"/>
<circle cx="363.66" cy="364.27" r="2.2" fill="#25282d"/>
<line x1="371.50" y1="342.70" x2="371.50" y2="357.08" stroke="#333" stroke-width="0.9"/>
<circle cx="371.50" cy="342.70" r="2.2" fill="#25282d"/>
<circle cx="371.50" cy="349.89" r="2.2" fill="#25282d"/>
<circle cx="371.50" cy="357.08" r="2.2" fill="#25282d"/>
<line x1="379.34" y1="285.19" x2="379.34" y2="299.56" stroke="#333" stroke-width="0.9"/>
<circle cx="379.34" cy="285.19" r="2.2" fill="#25282d"/>
<circle cx="379.34" cy="292.38" r="2.2" fill="#25282d"/>
<circle cx="379.34" cy="299.56" r="2.2" fill="#25282d"/>
<line x1="387.18" y1="313.94" x2="387.18" y2="335.51" stroke="#333" stroke-width="0.9"/>
<circle cx="387.18" cy="313.94" r="2.2" fill="#25282d"/>
<circle cx="387.18" cy="328.32" r="2.2" fill="#25282d"/>
<circle cx="387.18" cy="335.51" r="2.2" fill="#25282d"/>
<line x1="395.03" y1="285.19" x2="395.03" y2="306.75" stroke="#333" stroke-width="0.9"/>
<circle cx="395.03" cy="285.19" r="2.2" fill="#25282d"/>
<circle cx="395.03" cy="292.38" r="2.2" fill="#25282d"/>
<circle cx="395.03" cy="306.75" r="2.2" fill="#25282d"/>
<line x1="402.87" y1="313.94" x2="402.87" y2="335.51" stroke="#333" stroke-width="0.9"/>
<circle cx="402.87" cy="313.94" r="2.2" fill="#25282d"/>
<circle cx="402.87" cy="321.13" r="2.2" fill="#25282d"/>
<circle cx="402.87" cy="335.51" r="2.2" fill="#25282d"/>
<line x1="410.71" y1="321.13" x2="410.71" y2="335.51" stroke="#333" stroke-width="0.9"/>
<circle cx="410.71" cy="321.13" r="2.2" fill="#25282d"/>
<circle cx="410.71" cy="328.32" r="2.2" fill="#25282d"/>
<circle cx="410.71" cy="335.51" r="2.2" fill="#25282d"/>
<line x1="418.55" y1="321.13" x2="418.55" y2="357.08" stroke="#333" stroke-width="0.9"/>
<circle cx="418.55" cy="321.13" r="2.2" fill="#25282d"/>
<circle cx="418.55" cy="328.32" r="2.2" fill="#25282d"/>
<circle cx="418.55" cy="357.08" r="2.2" fill="#25282d"/>
<line x1="426.39" y1="285.19" x2="426.39" y2="357.08" stroke="#333" stroke-width="0.9"/>
<circle cx="426.39" cy="285.19" r="2.2" fill="#25282d"/>
<circle cx="426.39" cy="342.70" r="2.2" fill="#25282d"/>
<circle cx="426.39" cy="357.08" r="2.2" fill="#25282d"/>
<line x1="434.24" y1="321.13" x2="434.24" y2="364.27" stroke="#333" stroke-width="0.9"/>
<circle cx="434.24" cy="321.13" r="2.2" fill="#25282d"/>
<circle cx="434.24" cy="328.32" r="2.2" fill="#25282d"/>
<circle cx="434.24" cy="364.27" r="2.2" fill="#25282d"/>
<line x1="442.08" y1="342.70" x2="442.08" y2="364.27" stroke="#333" stroke-width="0.9"/>
<circle cx="442.08" cy="342.70" r="2.2" fill="#25282d"/>
<circle cx="442.08" cy="349.89" r="2.2" fill="#25282d"/>
<circle cx="442.08" cy="364.27" r="2.2" fill="#25282d"/>
<line x1="449.92" y1="285.19" x2="449.92" y2="306.75" stroke="#333" stroke-width="0.9"/>
<circle cx="449.92" cy="285.19" r="2.2" fill="#25282d"/>
<circle cx="449.92" cy="292.38" r="2.2" fill="#25282d"/>
<circle cx="449.92" cy="299.56" r="2.2" fill="#25282d"/>
<circle cx="449.92" cy="306.75" r="2.2" fill="#25282d"/>
<line x1="457.76" y1="313.94" x2="457.76" y2="335.51" stroke="#333" stroke-width="0.9"/>
<circle cx="457.76" cy="313.94" r="2.2" fill="#25282d"/>
<circle cx="457.76" cy="321.13" r="2.2" fill="#25282d"/>
<circle cx="457.76" cy="328.32" r="2.2" fill="#25282d"/>
<circle cx="457.76" cy="335.51" r="2.2" fill="#25282d"/>
<line x1="465.60" y1="321.13" x2="465.60" y2="364.27" stroke="#333" stroke-width="0.9"/>
<circle cx="465.60" cy="321.13" r="2.2" fill="#25282d"/>
<circle cx="465.60" cy="328.32" r="2.2" fill="#25282d"/>
<circle cx="465.60" cy="335.51" r="2.2" fill="#25282d"/>
<circle cx="465.60" cy="364.27" r="2.2" fill="#25282d"/>
<line x1="473.45" y1="328.32" x2="473.45" y2="364.27" stroke="#333" stroke-width="0.9"/>
<circle cx="473.45" cy="328.32" r="2.2" fill="#25282d"/>
<circle cx="473.45" cy="342.70" r="2.2" fill="#25282d"/>
<circle cx="473.45" cy="349.89" r="2.2" fill="#25282d"/>
<circle cx="473.45" cy="364.27" r="2.2" fill="#25282d"/>
<line x1="481.29" y1="321.13" x2="481.29" y2="364.27" stroke="#333" stroke-width="0.9"/>
<circle cx="481.29" cy="321.13" r="2.2" fill="#25282d"/>
<circle cx="481.29" cy="342.70" r="2.2" fill="#25282d"/>
<circle cx="481.29" cy="357.08" r="2.2" fill="#25282d"/>
<circle cx="481.29" cy="364.27" r="2.2" fill="#25282d"/>
<line x1="489.13" y1="278.00" x2="489.13" y2="306.75" stroke="#333" stroke-width="0.9"/>
<circle cx="489.13" cy="278.00" r="2.2" fill="#25282d"/>
<circle cx="489.13" cy="285.19" r="2.2" fill="#25282d"/>
<circle cx="489.13" cy="292.38" r="2.2" fill="#25282d"/>
<circle cx="489.13" cy="299.56" r="2.2" fill="#25282d"/>
<circle cx="489.13" cy="306.75" r="2.2" fill="#25282d"/>
<line x1="496.97" y1="313.94" x2="496.97" y2="342.70" stroke="#333" stroke-width="0.9"/>
<circle cx="496.97" cy="313.94" r="2.2" fill="#25282d"/>
<circle cx="496.97" cy="321.13" r="2.2" fill="#25282d"/>
<circle cx="496.97" cy="328.32" r="2.2" fill="#25282d"/>
<circle cx="496.97" cy="335.51" r="2.2" fill="#25282d"/>
<circle cx="496.97" cy="342.70" r="2.2" fill="#25282d"/>
<line x1="504.81" y1="313.94" x2="504.81" y2="364.27" stroke="#333" stroke-width="0.9"/>
<circle cx="504.81" cy="313.94" r="2.2" fill="#25282d"/>
<circle cx="504.81" cy="328.32" r="2.2" fill="#25282d"/>
<circle cx="504.81" cy="342.70" r="2.2" fill="#25282d"/>
<circle cx="504.81" cy="349.89" r="2.2" fill="#25282d"/>
<circle cx="504.81" cy="357.08" r="2.2" fill="#25282d"/>
<circle cx="504.81" cy="364.27" r="2.2" fill="#25282d"/>
<line x1="512.66" y1="321.13" x2="512.66" y2="364.27" stroke="#333" stroke-width="0.9"/>
<circle cx="512.66" cy="321.13" r="2.2" fill="#25282d"/>
<circle cx="512.66" cy="328.32" r="2.2" fill="#25282d"/>
<circle cx="512.66" cy="342.70" r="2.2" fill="#25282d"/>
<circle cx="512.66" cy="349.89" r="2.2" fill="#25282d"/>
<circle cx="512.66" cy="357.08" r="2.2" fill="#25282d"/>
<circle cx="512.66" cy="364.27" r="2.2" fill="#25282d"/>
<line x1="520.50" y1="313.94" x2="520.50" y2="364.27" stroke="#333" stroke-width="0.9"/>
<circle cx="520.50" cy="313.94" r="2.2" fill="#25282d"/>
<circle cx="520.50" cy="321.13" r="2.2" fill="#25282d"/>
<circle cx="520.50" cy="328.32" r="2.2" fill="#25282d"/>
<circle cx="520.50" cy="335.51" r="2.2" fill="#25282d"/>
<circle cx="520.50" cy="342.70" r="2.2" fill="#25282d"/>
<circle cx="520.50" cy="349.89" r="2.2" fill="#25282d"/>
<circle cx="520.50" cy="364.27" r="2.2" fill="#25282d"/>
<line x1="528.34" y1="313.94" x2="528.34" y2="364.27" stroke="#333" stroke-width="0.9"/>
<circle cx="528.34" cy="313.94" r="2.2" fill="#25282d"/>
<circle cx="528.34" cy="321.13" r="2.2" fill="#25282d"/>
<circle cx="528.34" cy="328.32" r="2.2" fill="#25282d"/>
<circle cx="528.34" cy="342.70" r="2.2" fill="#25282d"/>
<circle cx="528.34" cy="349.89" r="2.2" fill="#25282d"/>
<circle cx="528.34" cy="357.08" r="2.2" fill="#25282d"/>
<circle cx="528.34" cy="364.27" r="2.2" fill="#25282d"/>
<rect x="173.05" y="54.13" width="4.8" height="215.17" fill="#2b2b2b"/>
<text transform="translate(175.45,51.93) scale(0.92,1)" font-size="6.5" fill="#3c3c3c" stroke="#3c3c3c" stroke-width="0.1" text-anchor="middle">57</text>
<rect x="180.89" y="182.48" width="4.8" height="86.83" fill="#2b2b2b"/>
<text transform="translate(183.29,180.28) scale(0.92,1)" font-size="6.5" fill="#3c3c3c" stroke="#3c3c3c" stroke-width="0.1" text-anchor="middle">23</text>
<rect x="188.73" y="197.58" width="4.8" height="71.72" fill="#2b2b2b"/>
<text transform="translate(191.13,195.38) scale(0.92,1)" font-size="6.5" fill="#3c3c3c" stroke="#3c3c3c" stroke-width="0.1" text-anchor="middle">19</text>
<rect x="196.58" y="227.78" width="4.8" height="41.52" fill="#2b2b2b"/>
<text transform="translate(198.98,225.58) scale(0.92,1)" font-size="6.5" fill="#3c3c3c" stroke="#3c3c3c" stroke-width="0.1" text-anchor="middle">11</text>
<rect x="204.42" y="227.78" width="4.8" height="41.52" fill="#2b2b2b"/>
<text transform="translate(206.82,225.58) scale(0.92,1)" font-size="6.5" fill="#3c3c3c" stroke="#3c3c3c" stroke-width="0.1" text-anchor="middle">11</text>
<rect x="212.26" y="227.78" width="4.8" height="41.52" fill="#2b2b2b"/>
<text transform="translate(214.66,225.58) scale(0.92,1)" font-size="6.5" fill="#3c3c3c" stroke="#3c3c3c" stroke-width="0.1" text-anchor="middle">11</text>
<rect x="220.10" y="250.43" width="4.8" height="18.88" fill="#2b2b2b"/>
<text transform="translate(222.50,248.23) scale(0.92,1)" font-size="6.5" fill="#3c3c3c" stroke="#3c3c3c" stroke-width="0.1" text-anchor="middle">5</text>
<rect x="227.94" y="254.20" width="4.8" height="15.10" fill="#2b2b2b"/>
<text transform="translate(230.34,252.00) scale(0.92,1)" font-size="6.5" fill="#3c3c3c" stroke="#3c3c3c" stroke-width="0.1" text-anchor="middle">4</text>
<rect x="235.79" y="257.98" width="4.8" height="11.32" fill="#2b2b2b"/>
<text transform="translate(238.19,255.78) scale(0.92,1)" font-size="6.5" fill="#3c3c3c" stroke="#3c3c3c" stroke-width="0.1" text-anchor="middle">3</text>
<rect x="243.63" y="257.98" width="4.8" height="11.32" fill="#2b2b2b"/>
<text transform="translate(246.03,255.78) scale(0.92,1)" font-size="6.5" fill="#3c3c3c" stroke="#3c3c3c" stroke-width="0.1" text-anchor="middle">3</text>
<rect x="251.47" y="261.75" width="4.8" height="7.55" fill="#2b2b2b"/>
<text transform="translate(253.87,259.55) scale(0.92,1)" font-size="6.5" fill="#3c3c3c" stroke="#3c3c3c" stroke-width="0.1" text-anchor="middle">2</text>
<rect x="259.31" y="265.53" width="4.8" height="3.77" fill="#2b2b2b"/>
<text transform="translate(261.71,263.33) scale(0.92,1)" font-size="6.5" fill="#3c3c3c" stroke="#3c3c3c" stroke-width="0.1" text-anchor="middle">1</text>
<rect x="267.15" y="246.65" width="4.8" height="22.65" fill="#2b2b2b"/>
<text transform="translate(269.55,244.45) scale(0.92,1)" font-size="6.5" fill="#3c3c3c" stroke="#3c3c3c" stroke-width="0.1" text-anchor="middle">6</text>
<rect x="275.00" y="257.98" width="4.8" height="11.32" fill="#2b2b2b"/>
<text transform="translate(277.40,255.78) scale(0.92,1)" font-size="6.5" fill="#3c3c3c" stroke="#3c3c3c" stroke-width="0.1" text-anchor="middle">3</text>
<rect x="282.84" y="261.75" width="4.8" height="7.55" fill="#2b2b2b"/>
<text transform="translate(285.24,259.55) scale(0.92,1)" font-size="6.5" fill="#3c3c3c" stroke="#3c3c3c" stroke-width="0.1" text-anchor="middle">2</text>
<rect x="290.68" y="261.75" width="4.8" height="7.55" fill="#2b2b2b"/>
<text transform="translate(293.08,259.55) scale(0.92,1)" font-size="6.5" fill="#3c3c3c" stroke="#3c3c3c" stroke-width="0.1" text-anchor="middle">2</text>
<rect x="298.52" y="265.53" width="4.8" height="3.77" fill="#2b2b2b"/>
<text transform="translate(300.92,263.33) scale(0.92,1)" font-size="6.5" fill="#3c3c3c" stroke="#3c3c3c" stroke-width="0.1" text-anchor="middle">1</text>
<rect x="306.36" y="265.53" width="4.8" height="3.77" fill="#2b2b2b"/>
<text transform="translate(308.76,263.33) scale(0.92,1)" font-size="6.5" fill="#3c3c3c" stroke="#3c3c3c" stroke-width="0.1" text-anchor="middle">1</text>
<rect x="314.21" y="265.53" width="4.8" height="3.77" fill="#2b2b2b"/>
<text transform="translate(316.61,263.33) scale(0.92,1)" font-size="6.5" fill="#3c3c3c" stroke="#3c3c3c" stroke-width="0.1" text-anchor="middle">1</text>
<rect x="322.05" y="265.53" width="4.8" height="3.77" fill="#2b2b2b"/>
<text transform="translate(324.45,263.33) scale(0.92,1)" font-size="6.5" fill="#3c3c3c" stroke="#3c3c3c" stroke-width="0.1" text-anchor="middle">1</text>
<rect x="329.89" y="265.53" width="4.8" height="3.77" fill="#2b2b2b"/>
<text transform="translate(332.29,263.33) scale(0.92,1)" font-size="6.5" fill="#3c3c3c" stroke="#3c3c3c" stroke-width="0.1" text-anchor="middle">1</text>
<rect x="337.73" y="265.53" width="4.8" height="3.77" fill="#2b2b2b"/>
<text transform="translate(340.13,263.33) scale(0.92,1)" font-size="6.5" fill="#3c3c3c" stroke="#3c3c3c" stroke-width="0.1" text-anchor="middle">1</text>
<rect x="345.57" y="265.53" width="4.8" height="3.77" fill="#2b2b2b"/>
<text transform="translate(347.97,263.33) scale(0.92,1)" font-size="6.5" fill="#3c3c3c" stroke="#3c3c3c" stroke-width="0.1" text-anchor="middle">1</text>
<rect x="353.42" y="265.53" width="4.8" height="3.77" fill="#2b2b2b"/>
<text transform="translate(355.82,263.33) scale(0.92,1)" font-size="6.5" fill="#3c3c3c" stroke="#3c3c3c" stroke-width="0.1" text-anchor="middle">1</text>
<rect x="361.26" y="265.53" width="4.8" height="3.77" fill="#2b2b2b"/>
<text transform="translate(363.66,263.33) scale(0.92,1)" font-size="6.5" fill="#3c3c3c" stroke="#3c3c3c" stroke-width="0.1" text-anchor="middle">1</text>
<rect x="369.10" y="242.88" width="4.8" height="26.43" fill="#2b2b2b"/>
<text transform="translate(371.50,240.68) scale(0.92,1)" font-size="6.5" fill="#3c3c3c" stroke="#3c3c3c" stroke-width="0.1" text-anchor="middle">7</text>
<rect x="376.94" y="257.98" width="4.8" height="11.32" fill="#2b2b2b"/>
<text transform="translate(379.34,255.78) scale(0.92,1)" font-size="6.5" fill="#3c3c3c" stroke="#3c3c3c" stroke-width="0.1" text-anchor="middle">3</text>
<rect x="384.78" y="257.98" width="4.8" height="11.32" fill="#2b2b2b"/>
<text transform="translate(387.18,255.78) scale(0.92,1)" font-size="6.5" fill="#3c3c3c" stroke="#3c3c3c" stroke-width="0.1" text-anchor="middle">3</text>
<rect x="392.63" y="265.53" width="4.8" height="3.77" fill="#2b2b2b"/>
<text transform="translate(395.03,263.33) scale(0.92,1)" font-size="6.5" fill="#3c3c3c" stroke="#3c3c3c" stroke-width="0.1" text-anchor="middle">1</text>
<rect x="400.47" y="265.53" width="4.8" height="3.77" fill="#2b2b2b"/>
<text transform="translate(402.87,263.33) scale(0.92,1)" font-size="6.5" fill="#3c3c3c" stroke="#3c3c3c" stroke-width="0.1" text-anchor="middle">1</text>
<rect x="408.31" y="265.53" width="4.8" height="3.77" fill="#2b2b2b"/>
<text transform="translate(410.71,263.33) scale(0.92,1)" font-size="6.5" fill="#3c3c3c" stroke="#3c3c3c" stroke-width="0.1" text-anchor="middle">1</text>
<rect x="416.15" y="265.53" width="4.8" height="3.77" fill="#2b2b2b"/>
<text transform="translate(418.55,263.33) scale(0.92,1)" font-size="6.5" fill="#3c3c3c" stroke="#3c3c3c" stroke-width="0.1" text-anchor="middle">1</text>
<rect x="423.99" y="265.53" width="4.8" height="3.77" fill="#2b2b2b"/>
<text transform="translate(426.39,263.33) scale(0.92,1)" font-size="6.5" fill="#3c3c3c" stroke="#3c3c3c" stroke-width="0.1" text-anchor="middle">1</text>
<rect x="431.84" y="265.53" width="4.8" height="3.77" fill="#2b2b2b"/>
<text transform="translate(434.24,263.33) scale(0.92,1)" font-size="6.5" fill="#3c3c3c" stroke="#3c3c3c" stroke-width="0.1" text-anchor="middle">1</text>
<rect x="439.68" y="265.53" width="4.8" height="3.77" fill="#2b2b2b"/>
<text transform="translate(442.08,263.33) scale(0.92,1)" font-size="6.5" fill="#3c3c3c" stroke="#3c3c3c" stroke-width="0.1" text-anchor="middle">1</text>
<rect x="447.52" y="261.75" width="4.8" height="7.55" fill="#2b2b2b"/>
<text transform="translate(449.92,259.55) scale(0.92,1)" font-size="6.5" fill="#3c3c3c" stroke="#3c3c3c" stroke-width="0.1" text-anchor="middle">2</text>
<rect x="455.36" y="265.53" width="4.8" height="3.77" fill="#2b2b2b"/>
<text transform="translate(457.76,263.33) scale(0.92,1)" font-size="6.5" fill="#3c3c3c" stroke="#3c3c3c" stroke-width="0.1" text-anchor="middle">1</text>
<rect x="463.20" y="265.53" width="4.8" height="3.77" fill="#2b2b2b"/>
<text transform="translate(465.60,263.33) scale(0.92,1)" font-size="6.5" fill="#3c3c3c" stroke="#3c3c3c" stroke-width="0.1" text-anchor="middle">1</text>
<rect x="471.05" y="265.53" width="4.8" height="3.77" fill="#2b2b2b"/>
<text transform="translate(473.45,263.33) scale(0.92,1)" font-size="6.5" fill="#3c3c3c" stroke="#3c3c3c" stroke-width="0.1" text-anchor="middle">1</text>
<rect x="478.89" y="265.53" width="4.8" height="3.77" fill="#2b2b2b"/>
<text transform="translate(481.29,263.33) scale(0.92,1)" font-size="6.5" fill="#3c3c3c" stroke="#3c3c3c" stroke-width="0.1" text-anchor="middle">1</text>
<rect x="486.73" y="265.53" width="4.8" height="3.77" fill="#2b2b2b"/>
<text transform="translate(489.13,263.33) scale(0.92,1)" font-size="6.5" fill="#3c3c3c" stroke="#3c3c3c" stroke-width="0.1" text-anchor="middle">1</text>
<rect x="494.57" y="265.53" width="4.8" height="3.77" fill="#2b2b2b"/>
<text transform="translate(496.97,263.33) scale(0.92,1)" font-size="6.5" fill="#3c3c3c" stroke="#3c3c3c" stroke-width="0.1" text-anchor="middle">1</text>
<rect x="502.41" y="265.53" width="4.8" height="3.77" fill="#2b2b2b"/>
<text transform="translate(504.81,263.33) scale(0.92,1)" font-size="6.5" fill="#3c3c3c" stroke="#3c3c3c" stroke-width="0.1" text-anchor="middle">1</text>
<rect x="510.26" y="265.53" width="4.8" height="3.77" fill="#2b2b2b"/>
<text transform="translate(512.66,263.33) scale(0.92,1)" font-size="6.5" fill="#3c3c3c" stroke="#3c3c3c" stroke-width="0.1" text-anchor="middle">1</text>
<rect x="518.10" y="265.53" width="4.8" height="3.77" fill="#2b2b2b"/>
<text transform="translate(520.50,263.33) scale(0.92,1)" font-size="6.5" fill="#3c3c3c" stroke="#3c3c3c" stroke-width="0.1" text-anchor="middle">1</text>
<rect x="525.94" y="265.53" width="4.8" height="3.77" fill="#2b2b2b"/>
<text transform="translate(528.34,263.33) scale(0.92,1)" font-size="6.5" fill="#3c3c3c" stroke="#3c3c3c" stroke-width="0.1" text-anchor="middle">1</text>
<line x1="167.5" y1="20.8" x2="167.5" y2="269.8" stroke="#333" stroke-width="1"/>
<line x1="167" y1="269.6" x2="536" y2="269.6" stroke="#222" stroke-width="1"/>
<line x1="165.6" y1="269.30" x2="167.2" y2="269.30" stroke="#555" stroke-width="0.6"/>
<text transform="translate(165.3,271.30) scale(0.86,1)" font-size="5.7" fill="#7a7a7a" stroke="#7a7a7a" stroke-width="0.1" text-anchor="end">0</text>
<line x1="165.6" y1="193.80" x2="167.2" y2="193.80" stroke="#555" stroke-width="0.6"/>
<text transform="translate(165.3,195.80) scale(0.86,1)" font-size="5.7" fill="#7a7a7a" stroke="#7a7a7a" stroke-width="0.1" text-anchor="end">20</text>
<line x1="165.6" y1="118.30" x2="167.2" y2="118.30" stroke="#555" stroke-width="0.6"/>
<text transform="translate(165.3,120.30) scale(0.86,1)" font-size="5.7" fill="#7a7a7a" stroke="#7a7a7a" stroke-width="0.1" text-anchor="end">40</text>
<line x1="165.6" y1="42.80" x2="167.2" y2="42.80" stroke="#555" stroke-width="0.6"/>
<text transform="translate(165.3,44.80) scale(0.86,1)" font-size="5.7" fill="#7a7a7a" stroke="#7a7a7a" stroke-width="0.1" text-anchor="end">60</text>
<text transform="translate(149.9,133.2) rotate(-90)" font-size="7.85" fill="#111" stroke="#111" stroke-width="0.1" text-anchor="middle">Compounds Intersection</text>
<rect x="113.53" y="276.80" width="2.87" height="2.8" fill="#fccfb8" stroke="#d99580" stroke-width="0.7"/>
<text transform="translate(110.93,279.89) scale(0.86,1)" font-size="5.7" fill="#2a2a2a" stroke="#2a2a2a" stroke-width="0.22" text-anchor="end">2</text>
<text x="120.0" y="280.19" font-size="6.45" font-style="italic" fill="#111" stroke="#111" stroke-width="0.1">B. caramboleae</text>
<rect x="99.20" y="283.99" width="17.20" height="2.8" fill="#fccfb8" stroke="#d99580" stroke-width="0.7"/>
<text transform="translate(96.60,287.08) scale(0.86,1)" font-size="5.7" fill="#2a2a2a" stroke="#2a2a2a" stroke-width="0.22" text-anchor="end">12</text>
<text x="120.0" y="287.38" font-size="6.45" font-style="italic" fill="#111" stroke="#111" stroke-width="0.1">B. zonata</text>
<rect x="67.68" y="291.18" width="48.72" height="2.8" fill="#fccfb8" stroke="#d99580" stroke-width="0.7"/>
<text transform="translate(65.08,294.27) scale(0.86,1)" font-size="5.7" fill="#2a2a2a" stroke="#2a2a2a" stroke-width="0.22" text-anchor="end">34</text>
<text x="120.0" y="294.57" font-size="6.45" font-style="italic" fill="#111" stroke="#111" stroke-width="0.1">B. tryoni</text>
<rect x="99.20" y="298.37" width="17.20" height="2.8" fill="#fccfb8" stroke="#d99580" stroke-width="0.7"/>
<text transform="translate(96.60,301.46) scale(0.86,1)" font-size="5.7" fill="#2a2a2a" stroke="#2a2a2a" stroke-width="0.22" text-anchor="end">12</text>
<text x="120.0" y="301.76" font-size="6.45" font-style="italic" fill="#111" stroke="#111" stroke-width="0.1">B. musae</text>
<rect x="102.07" y="305.56" width="14.33" height="2.8" fill="#fccfb8" stroke="#d99580" stroke-width="0.7"/>
<text transform="translate(99.47,308.65) scale(0.86,1)" font-size="5.7" fill="#2a2a2a" stroke="#2a2a2a" stroke-width="0.22" text-anchor="end">10</text>
<text x="120.0" y="308.95" font-size="6.45" font-style="italic" fill="#111" stroke="#111" stroke-width="0.1">B. dorsalis <tspan font-style="normal">s.s.</tspan></text>
<rect x="99.20" y="312.75" width="17.20" height="2.8" fill="#b0d2f4" stroke="#6c8cc2" stroke-width="0.7"/>
<text transform="translate(96.60,315.84) scale(0.86,1)" font-size="5.7" fill="#2a2a2a" stroke="#2a2a2a" stroke-width="0.22" text-anchor="end">12</text>
<text x="120.0" y="316.14" font-size="6.45" font-style="italic" fill="#111" stroke="#111" stroke-width="0.1">A. suspensa</text>
<rect x="57.65" y="319.94" width="58.75" height="2.8" fill="#b0d2f4" stroke="#6c8cc2" stroke-width="0.7"/>
<text transform="translate(55.05,323.03) scale(0.86,1)" font-size="5.7" fill="#2a2a2a" stroke="#2a2a2a" stroke-width="0.22" text-anchor="end">41</text>
<text x="120.0" y="323.33" font-size="6.45" font-style="italic" fill="#111" stroke="#111" stroke-width="0.1">A. obliqua</text>
<rect x="69.11" y="327.12" width="47.29" height="2.8" fill="#b0d2f4" stroke="#6c8cc2" stroke-width="0.7"/>
<text transform="translate(66.51,330.22) scale(0.86,1)" font-size="5.7" fill="#2a2a2a" stroke="#2a2a2a" stroke-width="0.22" text-anchor="end">33</text>
<text x="120.0" y="330.52" font-size="6.45" font-style="italic" fill="#111" stroke="#111" stroke-width="0.1">A. fraterculus</text>
<rect x="84.87" y="334.31" width="31.53" height="2.8" fill="#b0d2f4" stroke="#6c8cc2" stroke-width="0.7"/>
<text transform="translate(82.27,337.41) scale(0.86,1)" font-size="5.7" fill="#2a2a2a" stroke="#2a2a2a" stroke-width="0.22" text-anchor="end">22</text>
<text x="120.0" y="337.71" font-size="6.45" font-style="italic" fill="#111" stroke="#111" stroke-width="0.1">A. ludens</text>
<rect x="82.01" y="341.50" width="34.39" height="2.8" fill="#f0a4ac" stroke="#c27080" stroke-width="0.7"/>
<text transform="translate(79.41,344.60) scale(0.86,1)" font-size="5.7" fill="#2a2a2a" stroke="#2a2a2a" stroke-width="0.22" text-anchor="end">24</text>
<text x="120.0" y="344.90" font-size="6.45" font-style="italic" fill="#111" stroke="#111" stroke-width="0.1">C. rosa</text>
<rect x="94.91" y="348.69" width="21.50" height="2.8" fill="#f0a4ac" stroke="#c27080" stroke-width="0.7"/>
<text transform="translate(92.31,351.79) scale(0.86,1)" font-size="5.7" fill="#2a2a2a" stroke="#2a2a2a" stroke-width="0.22" text-anchor="end">15</text>
<text x="120.0" y="352.09" font-size="6.45" font-style="italic" fill="#111" stroke="#111" stroke-width="0.1">C. anonae</text>
<rect x="79.14" y="355.88" width="37.26" height="2.8" fill="#f0a4ac" stroke="#c27080" stroke-width="0.7"/>
<text transform="translate(76.54,358.98) scale(0.86,1)" font-size="5.7" fill="#2a2a2a" stroke="#2a2a2a" stroke-width="0.22" text-anchor="end">26</text>
<text x="120.0" y="359.28" font-size="6.45" font-style="italic" fill="#111" stroke="#111" stroke-width="0.1">C. fasciventris</text>
<rect x="14.66" y="363.07" width="101.74" height="2.8" fill="#f0a4ac" stroke="#c27080" stroke-width="0.7"/>
<text transform="translate(12.06,366.17) scale(0.86,1)" font-size="5.7" fill="#2a2a2a" stroke="#2a2a2a" stroke-width="0.22" text-anchor="end">71</text>
<text x="120.0" y="366.47" font-size="6.45" font-style="italic" fill="#111" stroke="#111" stroke-width="0.1">C. capitata</text>
<line x1="9.9" y1="368.3" x2="116.6" y2="368.3" stroke="#333" stroke-width="0.8"/>
<line x1="30.42" y1="368.3" x2="30.42" y2="370" stroke="#555" stroke-width="0.6"/>
<text transform="translate(30.42,374.6) scale(0.86,1)" font-size="5.7" fill="#7a7a7a" stroke="#7a7a7a" stroke-width="0.1" text-anchor="middle">60</text>
<line x1="59.08" y1="368.3" x2="59.08" y2="370" stroke="#555" stroke-width="0.6"/>
<text transform="translate(59.08,374.6) scale(0.86,1)" font-size="5.7" fill="#7a7a7a" stroke="#7a7a7a" stroke-width="0.1" text-anchor="middle">40</text>
<line x1="87.74" y1="368.3" x2="87.74" y2="370" stroke="#555" stroke-width="0.6"/>
<text transform="translate(87.74,374.6) scale(0.86,1)" font-size="5.7" fill="#7a7a7a" stroke="#7a7a7a" stroke-width="0.1" text-anchor="middle">20</text>
<line x1="116.40" y1="368.3" x2="116.40" y2="370" stroke="#555" stroke-width="0.6"/>
<text transform="translate(116.40,374.6) scale(0.86,1)" font-size="5.7" fill="#7a7a7a" stroke="#7a7a7a" stroke-width="0.1" text-anchor="middle">0</text>
<text x="21.5" y="382.4" font-size="7.8" fill="#111" stroke="#111" stroke-width="0.1">Compounds per Species</text>
<rect x="26.9" y="213.2" width="88.6" height="32.7" rx="6" fill="#dedcb0"/>
<text x="30.5" y="220.60" font-size="6.45" fill="#222" stroke="#222" stroke-width="0.1">FA, Fatty acyls</text>
<text x="30.5" y="228.60" font-size="6.45" fill="#222" stroke="#222" stroke-width="0.1">SH, Saturated hydrocarbons</text>
<text x="30.5" y="236.30" font-size="6.45" fill="#222" stroke="#222" stroke-width="0.1">PL, Prenol lipids</text>
<text x="30.5" y="244.20" font-size="6.45" fill="#222" stroke="#222" stroke-width="0.1">D, Diazines</text>
<line x1="528.34" y1="21.10" x2="528.34" y2="256.53" stroke="#6a6a6a" stroke-width="0.85" stroke-dasharray="1 1.6"/>
<rect x="466.5" y="12.70" width="65.10" height="7.90" rx="2.6" fill="#e1e0b8"/>
<text x="499.05" y="18.95" font-size="6.6" fill="#222" stroke="#222" stroke-width="0.1" text-anchor="middle">(<tspan font-style="italic">Z</tspan>)-beta-ocimene (PL)</text>
<line x1="520.50" y1="38.10" x2="520.50" y2="256.53" stroke="#6a6a6a" stroke-width="0.85" stroke-dasharray="1 1.6"/>
<rect x="442.5" y="30.40" width="79.30" height="7.20" rx="2.6" fill="#e1e0b8"/>
<text x="482.15" y="36.30" font-size="6.6" fill="#222" stroke="#222" stroke-width="0.1" text-anchor="middle">(<tspan font-style="italic">E</tspan>,<tspan font-style="italic">E</tspan>)-alpha-farnesene (PL)</text>
<line x1="512.66" y1="55.60" x2="512.66" y2="256.53" stroke="#6a6a6a" stroke-width="0.85" stroke-dasharray="1 1.6"/>
<rect x="476.3" y="47.60" width="37.70" height="7.50" rx="2.6" fill="#e1e0b8"/>
<text x="495.15" y="53.65" font-size="6.6" fill="#222" stroke="#222" stroke-width="0.1" text-anchor="middle">linalool (PL)</text>
<line x1="504.81" y1="72.20" x2="504.81" y2="256.53" stroke="#6a6a6a" stroke-width="0.85" stroke-dasharray="1 1.6"/>
<rect x="441.5" y="64.50" width="65.40" height="7.20" rx="2.6" fill="#e1e0b8"/>
<text x="474.20" y="70.40" font-size="6.6" fill="#222" stroke="#222" stroke-width="0.1" text-anchor="middle">(<tspan font-style="italic">E</tspan>)-beta-ocimene (PL)</text>
<line x1="496.97" y1="90.50" x2="496.97" y2="256.53" stroke="#6a6a6a" stroke-width="0.85" stroke-dasharray="1 1.6"/>
<rect x="441.5" y="82.50" width="56.90" height="7.50" rx="2.6" fill="#e1e0b8"/>
<text x="469.95" y="88.55" font-size="6.6" fill="#222" stroke="#222" stroke-width="0.1" text-anchor="middle">(<tspan font-style="italic">Z</tspan>)-non-3-enol (FA)</text>
<line x1="481.29" y1="108.00" x2="481.29" y2="256.53" stroke="#6a6a6a" stroke-width="0.85" stroke-dasharray="1 1.6"/>
<rect x="412.5" y="99.50" width="71.90" height="8.00" rx="2.6" fill="#e1e0b8"/>
<text x="448.45" y="105.80" font-size="6.6" fill="#222" stroke="#222" stroke-width="0.1" text-anchor="middle">2,5-dimethylpyrazine (D)</text>
<line x1="473.45" y1="124.80" x2="473.45" y2="256.53" stroke="#6a6a6a" stroke-width="0.85" stroke-dasharray="1 1.6"/>
<rect x="397.3" y="116.50" width="78.30" height="7.80" rx="2.6" fill="#e1e0b8"/>
<text x="436.45" y="122.70" font-size="6.6" fill="#222" stroke="#222" stroke-width="0.1" text-anchor="middle">(<tspan font-style="italic">Z</tspan>,<tspan font-style="italic">E</tspan>)-alpha-farnesene (PL)</text>
<line x1="465.60" y1="143.10" x2="465.60" y2="256.53" stroke="#6a6a6a" stroke-width="0.85" stroke-dasharray="1 1.6"/>
<rect x="386.9" y="134.20" width="83.10" height="8.40" rx="2.6" fill="#e1e0b8"/>
<text x="428.45" y="140.70" font-size="6.6" fill="#222" stroke="#222" stroke-width="0.1" text-anchor="middle">(<tspan font-style="italic">E</tspan>)-alpha-bergamotene (PL)</text>
<line x1="426.39" y1="171.50" x2="426.39" y2="256.53" stroke="#6a6a6a" stroke-width="0.85" stroke-dasharray="1 1.6"/>
<rect x="360.6" y="163.20" width="83.50" height="7.80" rx="2.6" fill="#e1e0b8"/>
<text x="402.35" y="169.40" font-size="6.6" fill="#222" stroke="#222" stroke-width="0.1" text-anchor="middle">2,3,5-trimethylpyrazine (DA)</text>
<line x1="418.55" y1="189.80" x2="418.55" y2="256.53" stroke="#6a6a6a" stroke-width="0.85" stroke-dasharray="1 1.6"/>
<rect x="359.9" y="182.20" width="62.50" height="7.10" rx="2.6" fill="#e1e0b8"/>
<text x="391.15" y="188.05" font-size="6.6" fill="#222" stroke="#222" stroke-width="0.1" text-anchor="middle">ethyl hexanoate (FA)</text>
<line x1="363.66" y1="219.10" x2="363.66" y2="256.53" stroke="#6a6a6a" stroke-width="0.85" stroke-dasharray="1 1.6"/>
<rect x="359.1" y="211.20" width="55.60" height="7.40" rx="2.6" fill="#e1e0b8"/>
<text x="386.90" y="217.20" font-size="6.6" fill="#222" stroke="#222" stroke-width="0.1" text-anchor="middle">beta-myrcene (PL)</text>
<line x1="434.24" y1="226.80" x2="434.24" y2="256.53" stroke="#6a6a6a" stroke-width="0.85" stroke-dasharray="1 1.6"/>
<rect x="432.0" y="210.30" width="23.40" height="16.00" rx="2.6" fill="#e1e0b8"/>
<text x="443.70" y="216.50" font-size="6.6" fill="#222" stroke="#222" stroke-width="0.1" text-anchor="middle">nonanal</text>
<text x="443.70" y="223.50" font-size="6.6" fill="#222" stroke="#222" stroke-width="0.1" text-anchor="middle">(OC)</text>
<line x1="355.82" y1="71.10" x2="355.82" y2="256.53" stroke="#6a6a6a" stroke-width="0.85" stroke-dasharray="1 1.6"/>
<rect x="307.0" y="62.60" width="50.50" height="8.00" rx="2.6" fill="#e1e0b8"/>
<text x="332.25" y="68.90" font-size="6.6" fill="#222" stroke="#222" stroke-width="0.1" text-anchor="middle">tetradecane (SH)</text>
<line x1="347.97" y1="87.00" x2="347.97" y2="256.53" stroke="#6a6a6a" stroke-width="0.85" stroke-dasharray="1 1.6"/>
<rect x="254.5" y="78.90" width="95.10" height="7.60" rx="2.6" fill="#e1e0b8"/>
<text x="302.05" y="85.00" font-size="6.6" fill="#222" stroke="#222" stroke-width="0.1" text-anchor="middle">3-ethyl-2,5-dimethylpyrazine (D)</text>
<line x1="316.61" y1="102.80" x2="316.61" y2="256.53" stroke="#6a6a6a" stroke-width="0.85" stroke-dasharray="1 1.6"/>
<rect x="249.2" y="94.30" width="71.00" height="8.00" rx="2.6" fill="#e1e0b8"/>
<text x="284.70" y="100.60" font-size="6.6" fill="#222" stroke="#222" stroke-width="0.1" text-anchor="middle">(<tspan font-style="italic">Z</tspan>)-beta-farnesene (PL)</text>
<line x1="308.76" y1="119.30" x2="308.76" y2="256.53" stroke="#6a6a6a" stroke-width="0.85" stroke-dasharray="1 1.6"/>
<rect x="255.5" y="110.60" width="57.20" height="8.20" rx="2.6" fill="#e1e0b8"/>
<text x="284.10" y="117.00" font-size="6.6" fill="#222" stroke="#222" stroke-width="0.1" text-anchor="middle">beta-elemene (PL)</text>
<line x1="293.08" y1="152.80" x2="293.08" y2="252.75" stroke="#6a6a6a" stroke-width="0.85" stroke-dasharray="1 1.6"/>
<rect x="235.7" y="136.80" width="59.80" height="15.50" rx="2.6" fill="#e1e0b8"/>
<text x="295.00" y="142.80" font-size="6.5" fill="#222" stroke="#222" stroke-width="0.1" text-anchor="end">geranyl acetate (FA)</text>
<text x="295.00" y="149.80" font-size="6.5" fill="#222" stroke="#222" stroke-width="0.1" text-anchor="end">decane (SH)</text>
</svg></body></html>
